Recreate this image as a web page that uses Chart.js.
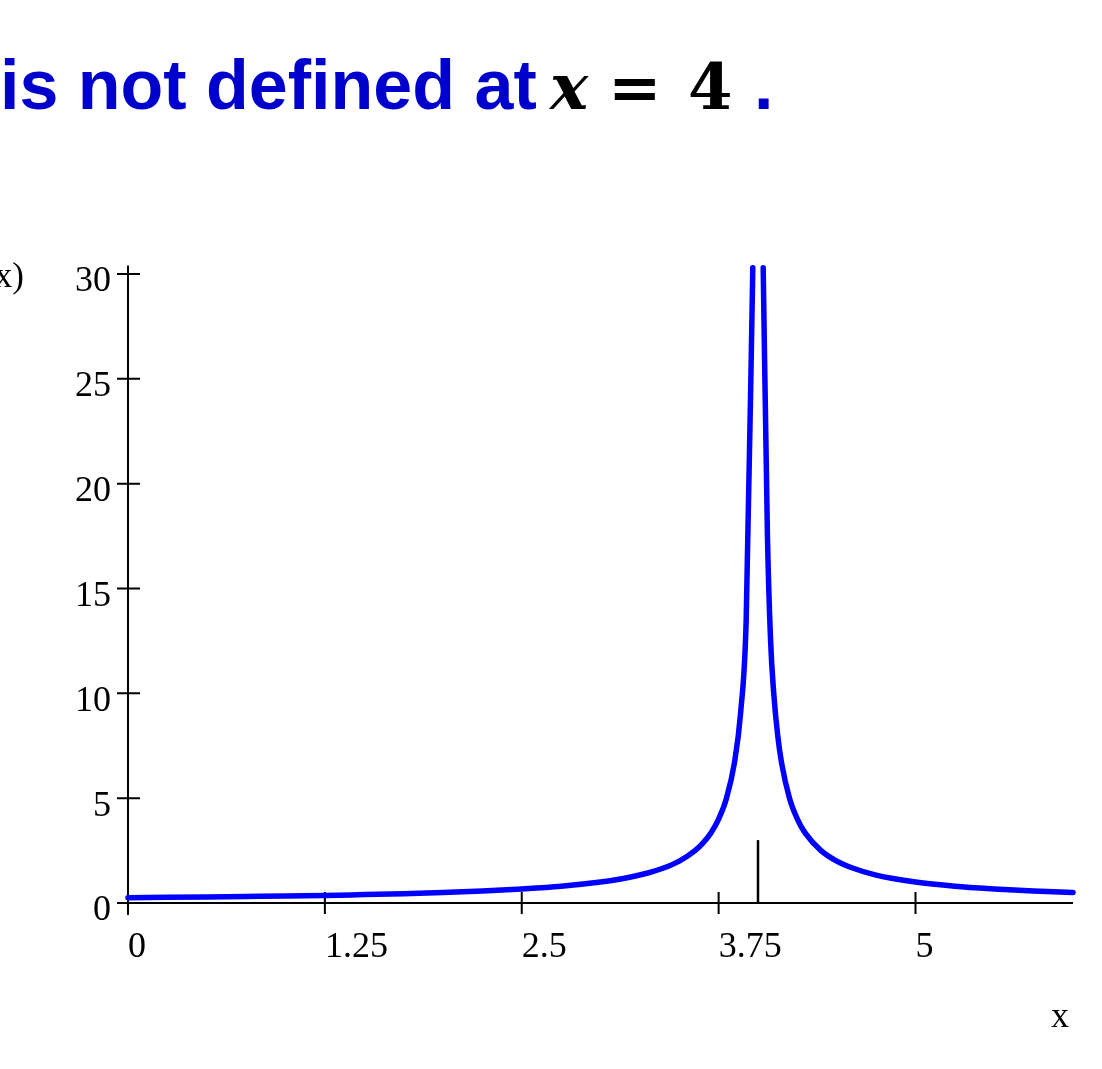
<!DOCTYPE html>
<html>
<head>
<meta charset="utf-8">
<script src="https://cdn.jsdelivr.net/npm/chart.js@4.4.1/dist/chart.umd.min.js"></script>
<style>
  body { margin: 0; background: #fff; }
  #wrap { position: relative; width: 1102px; height: 1069px; }
</style>
</head>
<body>
<div id="wrap"><canvas id="plot"></canvas></div>
<script>
// left branch of the curve (x < 4)
const xLeft = [0, 0.25, 0.5, 0.75, 1, 1.25, 1.5, 1.75, 2, 2.25, 2.5, 2.75, 3, 3.1, 3.2, 3.3, 3.4, 3.5, 3.6, 3.65, 3.7, 3.75, 3.8, 3.85, 3.89, 3.925, 3.967];
const yLeft = [0.25, 0.27, 0.29, 0.31, 0.33, 0.36, 0.4, 0.44, 0.5, 0.57, 0.67, 0.8, 1.0, 1.11, 1.25, 1.43, 1.67, 2.0, 2.5, 2.86, 3.33, 4.0, 5.0, 6.67, 9.1, 13.5, 30.3];
// right branch (x > 4)
const xRight = [4.033, 4.06, 4.08, 4.1, 4.125, 4.15, 4.2, 4.25, 4.3, 4.4, 4.5, 4.6, 4.75, 5, 5.25, 5.5, 5.75, 6];
const yRight = [30.3, 17.5, 12.5, 10, 8, 6.67, 5, 4, 3.33, 2.5, 2, 1.67, 1.33, 1, 0.8, 0.67, 0.57, 0.5];
// short vertical marker at x = 4
const markX = [4, 4];
const markY = [0, 3];

const xTickVals = [0, 1.25, 2.5, 3.75, 5];
const yTickVals = [0, 5, 10, 15, 20, 25, 30];

const toPts = (xs, ys) => xs.map((x, i) => ({ x: x, y: ys[i] }));

// axes with ticks crossing the lines, like the original plot
const axesPlugin = {
  id: "axesPlugin",
  beforeDatasetsDraw(chart) {
    const { ctx, scales } = chart;
    const xs = scales.x, ys = scales.y;
    const x0 = xs.getPixelForValue(0), y0 = ys.getPixelForValue(0);
    ctx.save();
    ctx.strokeStyle = "#000";
    ctx.lineWidth = 2;
    ctx.beginPath();
    ctx.moveTo(x0, y0 + 12);
    ctx.lineTo(x0, ys.getPixelForValue(30.4));
    ctx.moveTo(x0, y0);
    ctx.lineTo(xs.getPixelForValue(6), y0);
    xTickVals.forEach(v => {
      if (v === 0) return;
      const px = xs.getPixelForValue(v);
      ctx.moveTo(px, y0 - 11);
      ctx.lineTo(px, y0 + 11);
    });
    yTickVals.forEach(v => {
      const py = ys.getPixelForValue(v);
      ctx.moveTo(x0 - 11, py);
      ctx.lineTo(x0 + 12, py);
    });
    ctx.stroke();
    ctx.restore();
  },
  afterDraw(chart) {
    const ctx = chart.ctx;
    ctx.save();
    // axis titles
    ctx.fillStyle = "#000";
    ctx.font = "35px 'Liberation Serif'";
    ctx.textAlign = "right";
    ctx.textBaseline = "alphabetic";
    ctx.fillText("f(x)", 24, 287);
    ctx.textAlign = "left";
    ctx.font = "36px 'Liberation Serif'";
    ctx.fillText("x", 1051, 1027);

    // heading
    ctx.fillStyle = "#0000cc";
    ctx.font = "bold 70px 'Liberation Sans'";
    ctx.fillText("is not defined at", 0, 109);
    ctx.fillStyle = "#000";
    ctx.font = "italic bold 64px 'DejaVu Serif'";
    ctx.fillText("x", 550, 109);
    ctx.font = "bold 64px 'DejaVu Serif'";
    ctx.fillText("=", 608, 109);
    ctx.fillText("4", 688, 109);
    ctx.fillStyle = "#0000cc";
    ctx.font = "bold 70px 'Liberation Sans'";
    ctx.fillText(".", 754, 109);
    ctx.restore();
  }
};

const curveStyle = {
  showLine: true,
  borderColor: "#0000ff",
  borderWidth: 5.5,
  borderCapStyle: "round",
  borderJoinStyle: "round",
  pointRadius: 0,
  cubicInterpolationMode: "monotone",
  clip: false
};

new Chart(document.getElementById("plot"), {
  type: "scatter",
  data: {
    datasets: [
      Object.assign({ data: toPts(xLeft, yLeft) }, curveStyle),
      Object.assign({ data: toPts(xRight, yRight) }, curveStyle),
      {
        data: toPts(markX, markY),
        showLine: true,
        borderColor: "#000",
        borderWidth: 2.5,
        pointRadius: 0
      }
    ]
  },
  options: {
    responsive: true,
    maintainAspectRatio: false,
    animation: false,
    layout: { padding: { top: 274, right: 29, left: 0, bottom: 0 } },
    plugins: { legend: { display: false }, tooltip: { enabled: false } },
    scales: {
      x: {
        type: "linear",
        min: 0,
        max: 6,
        grid: { display: false, drawTicks: false },
        border: { display: false },
        afterBuildTicks: s => { s.ticks = xTickVals.map(v => ({ value: v })); },
        afterFit: s => { s.height = 166; },
        ticks: {
          align: "start",
          padding: 23,
          color: "#000",
          font: { family: "'Liberation Serif'", size: 36 },
          callback: v => String(v)
        }
      },
      y: {
        min: 0,
        max: 30,
        grid: { display: false, drawTicks: false },
        border: { display: false },
        afterBuildTicks: s => { s.ticks = yTickVals.map(v => ({ value: v })); },
        afterFit: s => { s.width = 128; },
        ticks: {
          padding: 17,
          labelOffset: 8,
          color: "#000",
          font: { family: "'Liberation Serif'", size: 36 },
          callback: v => String(v)
        }
      }
    }
  },
  plugins: [axesPlugin]
});
</script>
</body>
</html>
